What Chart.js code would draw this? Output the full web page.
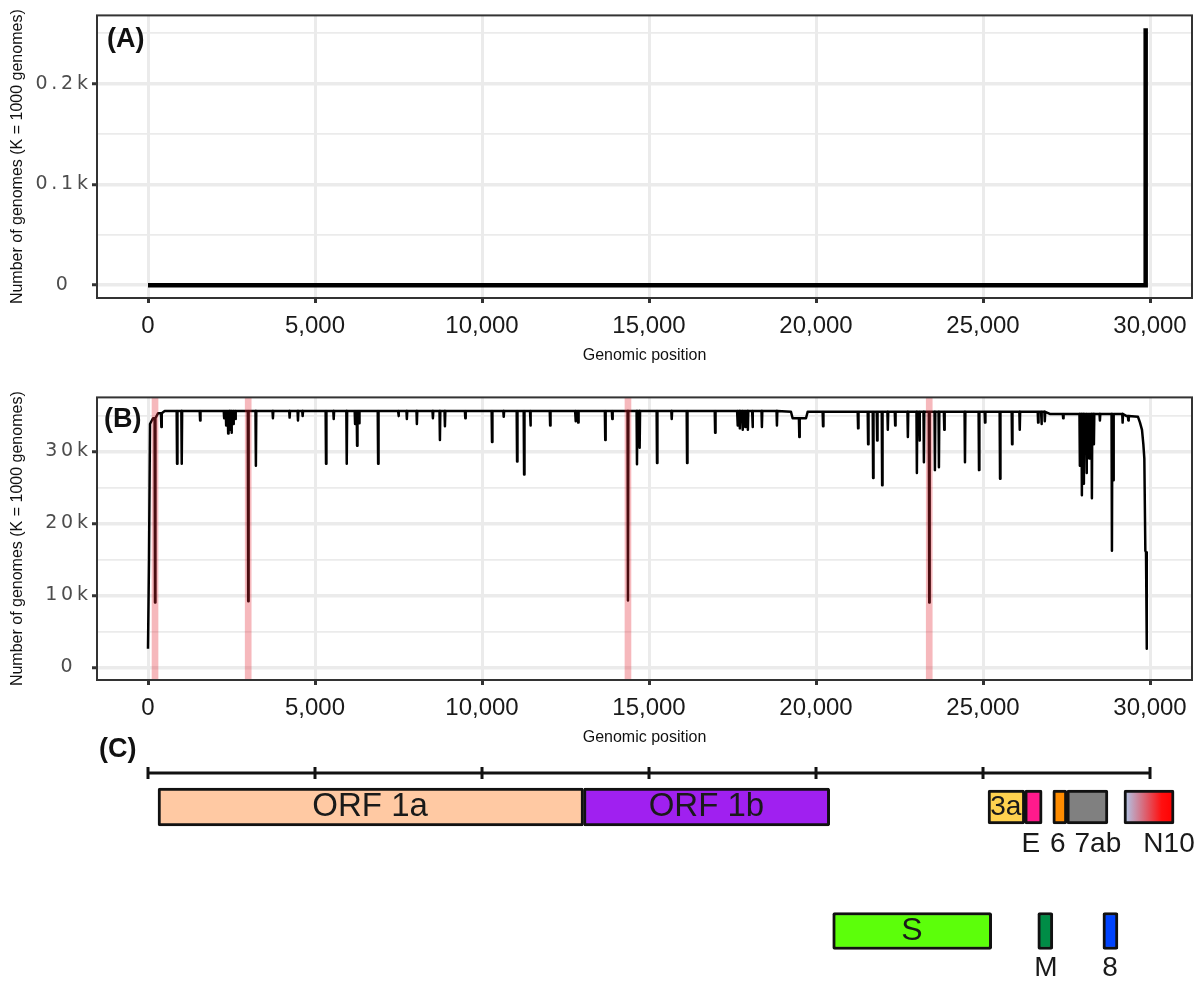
<!DOCTYPE html>
<html>
<head>
<meta charset="utf-8">
<script src="https://cdn.jsdelivr.net/npm/chart.js@4.4.1/dist/chart.umd.min.js"></script>
<style>
  html, body { margin: 0; padding: 0; background: #fff; }
  #page { position: relative; width: 1200px; height: 988px; overflow: hidden; }
  canvas { position: absolute; left: 0; }
</style>
</head>
<body>
<div id="page">
  <canvas id="panelA" width="1200" height="370" style="top:0;width:1200px;height:370px"></canvas>
  <canvas id="panelB" width="1200" height="370" style="top:382px;width:1200px;height:370px"></canvas>
  <canvas id="panelC" width="1200" height="263" style="top:725px;width:1200px;height:263px"></canvas>
</div>
<script>
// genome axis shared by all three panels
const xMin = -1527, xMax = 31257;
const xTicks = [0, 5000, 10000, 15000, 20000, 25000, 30000];

// (A) count at each genomic position
const posA = [0, 29860, 29870];
const genomesA = [0, 0, 255];
const yTicksA = [0, 50, 100, 150, 200, 250];
const yLabelsA = { 0: '0', 100: '0.1k', 200: '0.2k' };

// (B) coverage in thousands of genomes: overall trace + narrow dips
const tracePos = [0, 30, 60, 150, 300, 500, 19250, 19300, 19700, 19750, 27000, 29300, 29640, 29700, 29760, 29800, 29830, 29860, 29880, 29903];
const traceK = [2.6, 15.0, 33.8, 34.6, 35.3, 35.6, 35.5, 34.6, 34.6, 35.5, 35.2, 34.9, 34.8, 34.0, 33.0, 31.0, 29.0, 16.2, 16.0, 2.6];
const dipPos = [210, 400, 870, 1010, 1560, 2280, 2340, 2400, 2450, 2500, 2560, 2620, 3000, 3230, 3740, 4240, 4490, 4630,
  5330, 5560, 5950, 6200, 6260, 6320, 6890, 7500, 7750, 8050, 8530, 8740, 8890, 9500, 10300, 10650, 11050, 11260, 11450,
  12040, 12800, 12880, 13690, 13900, 14370, 14640, 14720, 15240, 15680, 16140, 16980, 17650, 17720, 17800, 17880, 17960,
  18100, 18380, 18830, 19500, 20210, 21260, 21560, 21710, 21830, 21980, 22150, 22370, 22750, 23020, 23100, 23230, 23390,
  23560, 23680, 23840, 24460, 24880, 25060, 25510, 25870, 26100, 26650, 26750, 26850, 27400, 27900, 27960, 28020, 28100,
  28180, 28260, 28320, 28500, 28860, 28900, 29180, 29350];
const dipK = [9.0, 33.4, 28.3, 28.3, 34.3, 34.6, 33.6, 32.5, 33.0, 32.6, 33.8, 34.5, 9.2, 28.0, 34.6, 34.7, 34.3, 34.9,
  28.3, 34.5, 28.3, 33.8, 30.8, 33.9, 28.3, 34.9, 34.5, 33.8, 34.6, 31.6, 33.5, 34.6, 31.3, 34.8, 28.6, 26.8, 33.6,
  33.6, 34.2, 34.0, 31.6, 34.5, 9.3, 28.2, 30.5, 28.4, 34.5, 28.4, 32.6, 33.6, 33.2, 33.0, 33.4, 33.0,
  33.4, 33.4, 33.6, 32.0, 33.5, 33.2, 31.0, 26.3, 31.5, 25.3, 33.0, 33.6, 32.0, 27.0, 31.5, 28.5, 9.0,
  27.4, 27.8, 33.0, 28.5, 27.4, 34.0, 26.2, 31.0, 33.0, 34.0, 33.8, 34.2, 34.6, 28.0, 23.9, 25.5, 27.0,
  29.0, 23.5, 31.0, 34.3, 16.2, 26.0, 34.0, 34.3];
const flaggedPos = [210, 3000, 14370, 23390];
const yTicksB = [0, 5, 10, 15, 20, 25, 30, 35];
const yLabelsB = { 0: '0', 10: '10k', 20: '20k', 30: '30k' };

// (C) genome map
const genes = ['ORF 1a', 'ORF 1b', '3a', 'E', '6', '7ab', 'N', 'S', 'M', '8'];
const geneStart = [300, 13040, 25150, 26250, 27090, 27510, 29220, 20500, 26640, 28590];
const geneEnd = [13040, 20410, 26250, 26770, 27510, 28740, 30720, 25260, 27090, 29040];
const geneRow = ['top', 'top', 'top', 'top', 'top', 'top', 'top', 'bottom', 'bottom', 'bottom'];
const labelText = ['ORF 1a', 'ORF 1b', '3a', 'E', '6', '7ab', 'N10', 'S', 'M', '8'];
const labelPos = [6650, 16720, 25680, 26430, 27240, 28440, 30570, 22870, 26880, 28800];
const labelInside = [true, true, true, false, false, false, false, true, false, false];

// styles
const geneColor = { 'ORF 1a': '#ffc9a3', 'ORF 1b': '#a020f0', '3a': '#ffd24f', 'E': '#ff1a8c', '6': '#ff8c00',
  '7ab': '#808080', 'S': '#5cff0a', 'M': '#008c46', '8': '#0044ff' };
const labelSize = { 'ORF 1a': 33, 'ORF 1b': 33, '3a': 28, 'S': 32 };
const rowY = { scale: 48, top: 82, topLabel: 119, bottom: 206, bottomLabel: 243 };
const sans = '"Liberation Sans", Arial, sans-serif';
const tickFont = { family: '"DejaVu Sans", Verdana, sans-serif', size: 19 };
const xTickFont = { family: sans, size: 24 };
const titleFont = { family: sans, size: 16 };
const spaced = s => s.split('').join('\u2009');

const panelText = {
  id: 'panelText',
  afterDatasetsDraw(chart, args, opts) {
    const { ctx, chartArea: a } = chart;
    ctx.save();
    if (opts.frame) {
      ctx.strokeStyle = '#333';
      ctx.lineWidth = 2;
      ctx.strokeRect(a.left, a.top, a.right - a.left, a.bottom - a.top);
    }
    ctx.textBaseline = 'middle';
    if (opts.tag) {
      ctx.font = 'bold 27px ' + sans;
      ctx.fillStyle = '#111';
      ctx.textAlign = 'left';
      ctx.fillText(opts.tag, a.left + opts.tagDx, a.top + opts.tagDy);
    }
    (opts.items || []).forEach(t => {
      ctx.font = t.size + 'px ' + sans;
      ctx.fillStyle = '#1a1a1a';
      ctx.textAlign = 'center';
      ctx.fillText(t.text, chart.scales.x.getPixelForValue(t.x), chart.scales.y.getPixelForValue(t.y));
    });
    ctx.restore();
  }
};
Chart.register(panelText);

function xAxis() {
  return {
    type: 'linear', min: xMin, max: xMax, offset: false,
    afterBuildTicks: s => { s.ticks = xTicks.map(v => ({ value: v })); },
    afterFit: s => { s.height = 72; },
    grid: { offset: false, color: '#ebebeb', lineWidth: 3, tickLength: 5, tickWidth: 3, tickColor: '#333' },
    border: { display: false },
    ticks: { font: xTickFont, color: '#1a1a1a', padding: 9, maxRotation: 0, autoSkip: false,
      callback: v => v.toLocaleString('en-US') },
    title: { display: true, text: 'Genomic position', font: titleFont, color: '#111', padding: { top: 0, bottom: 5 } }
  };
}

function yAxis(min, max, ticks, labels, step) {
  const major = v => v % step === 0;
  return {
    type: 'linear', min, max,
    afterBuildTicks: s => { s.ticks = ticks.map(v => ({ value: v })); },
    afterFit: s => { s.width = 97; },
    grid: { color: '#ebebeb', lineWidth: c => major(c.tick.value) ? 3.5 : 1.8,
      tickLength: 5, tickWidth: 3, tickColor: c => major(c.tick.value) ? '#333' : 'rgba(0,0,0,0)' },
    border: { display: false },
    ticks: { font: tickFont, color: '#4d4d4d', padding: 4, crossAlign: 'center', autoSkip: false,
      callback: v => spaced(labels[v] || '') },
    title: { display: true, text: 'Number of genomes (K = 1000 genomes)', font: titleFont, color: '#111',
      padding: { top: 8, bottom: 0 } }
  };
}

const common = {
  responsive: false,
  animation: false,
  layout: { autoPadding: false, padding: { top: 15, right: 8, left: 0, bottom: 0 } },
  plugins: { legend: { display: false }, tooltip: { enabled: false } }
};

// panel A
new Chart(document.getElementById('panelA'), {
  type: 'line',
  data: { datasets: [{
    data: posA.map((p, i) => ({ x: p, y: genomesA[i] })),
    borderColor: '#000', borderWidth: 4.5, pointRadius: 0, tension: 0
  }] },
  options: { ...common,
    scales: { x: xAxis(), y: yAxis(-12.75, 267.75, yTicksA, yLabelsA, 100) },
    plugins: { ...common.plugins, panelText: { frame: true, tag: '(A)', tagDx: 10, tagDy: 24 } }
  }
});

// panel B
const yMinB = -1.75, yMaxB = 37.5;
function levelAt(p) {
  let k = traceK[0];
  tracePos.forEach((q, i) => { if (q <= p) k = traceK[i]; });
  return k;
}
const pointsB = tracePos.map((p, i) => ({ x: p, y: traceK[i] }));
dipPos.forEach((p, i) => {
  const lvl = levelAt(p);
  pointsB.push({ x: p - 12, y: lvl }, { x: p, y: dipK[i] }, { x: p + 12, y: lvl });
});
pointsB.sort((a, b) => a.x - b.x);

new Chart(document.getElementById('panelB'), {
  type: 'line',
  data: { datasets: [
    { type: 'bar', data: flaggedPos.map(p => ({ x: p, y: [yMinB, yMaxB] })),
      backgroundColor: 'rgba(228,40,52,0.33)', barThickness: 6, grouped: false, order: 0 },
    { type: 'line', data: pointsB, borderColor: '#000', borderWidth: 2.5, pointRadius: 0,
      borderJoinStyle: 'round', tension: 0, order: 1 }
  ] },
  options: { ...common,
    scales: { x: xAxis(), y: yAxis(yMinB, yMaxB, yTicksB, yLabelsB, 10) },
    plugins: { ...common.plugins, panelText: { frame: true, tag: '(B)', tagDx: 7, tagDy: 22 } }
  }
});

// panel C
const thickness = { 'ORF 1a': 38, 'ORF 1b': 38, 'S': 37, 'M': 37, '8': 37 };
function geneFill(ctx) {
  const g = genes[ctx.raw.gene];
  if (g !== 'N') return geneColor[g];
  const chart = ctx.chart;
  if (!chart.chartArea) return '#d06080';
  const x0 = chart.scales.x.getPixelForValue(geneStart[ctx.raw.gene]);
  const x1 = chart.scales.x.getPixelForValue(geneEnd[ctx.raw.gene]);
  const grad = chart.ctx.createLinearGradient(x0, 0, x1, 0);
  grad.addColorStop(0, '#aecbee');
  grad.addColorStop(0.75, '#ff1010');
  grad.addColorStop(1, '#ff0000');
  return grad;
}
const groups = {};
genes.forEach((g, i) => {
  const h = thickness[g] || 34;
  (groups[h] = groups[h] || []).push({ x: [geneStart[i], geneEnd[i]], y: rowY[geneRow[i]], gene: i });
});
const geneSets = Object.keys(groups).map(h => ({
  type: 'bar', indexAxis: 'y', data: groups[h], barThickness: +h, grouped: false,
  backgroundColor: geneFill, borderColor: '#111', borderWidth: 3, borderSkipped: false, borderRadius: 2
}));

new Chart(document.getElementById('panelC'), {
  type: 'bar',
  data: { datasets: [
    ...geneSets,
    { type: 'line', data: [{ x: 0, y: rowY.scale }, { x: 30000, y: rowY.scale }],
      borderColor: '#111', borderWidth: 3, pointRadius: 0 },
    { type: 'line', data: xTicks.map(v => ({ x: v, y: rowY.scale })), showLine: false,
      pointStyle: 'line', rotation: 90, pointRadius: 6, pointBorderWidth: 3, pointBorderColor: '#111' }
  ] },
  options: { ...common,
    layout: { autoPadding: false, padding: { top: 0, right: 8, left: 97, bottom: 0 } },
    scales: {
      x: { type: 'linear', min: xMin, max: xMax, display: false, offset: false },
      y: { type: 'linear', min: 0, max: 263, reverse: true, display: false, offset: false }
    },
    plugins: { ...common.plugins, panelText: {
      tag: '(C)', tagDx: 2, tagDy: 25,
      items: labelText.map((t, i) => ({
        text: t, x: labelPos[i], size: labelSize[t] || 28,
        y: labelInside[i] ? rowY[geneRow[i]] : rowY[geneRow[i] + 'Label']
      }))
    } }
  }
});
</script>
</body>
</html>
